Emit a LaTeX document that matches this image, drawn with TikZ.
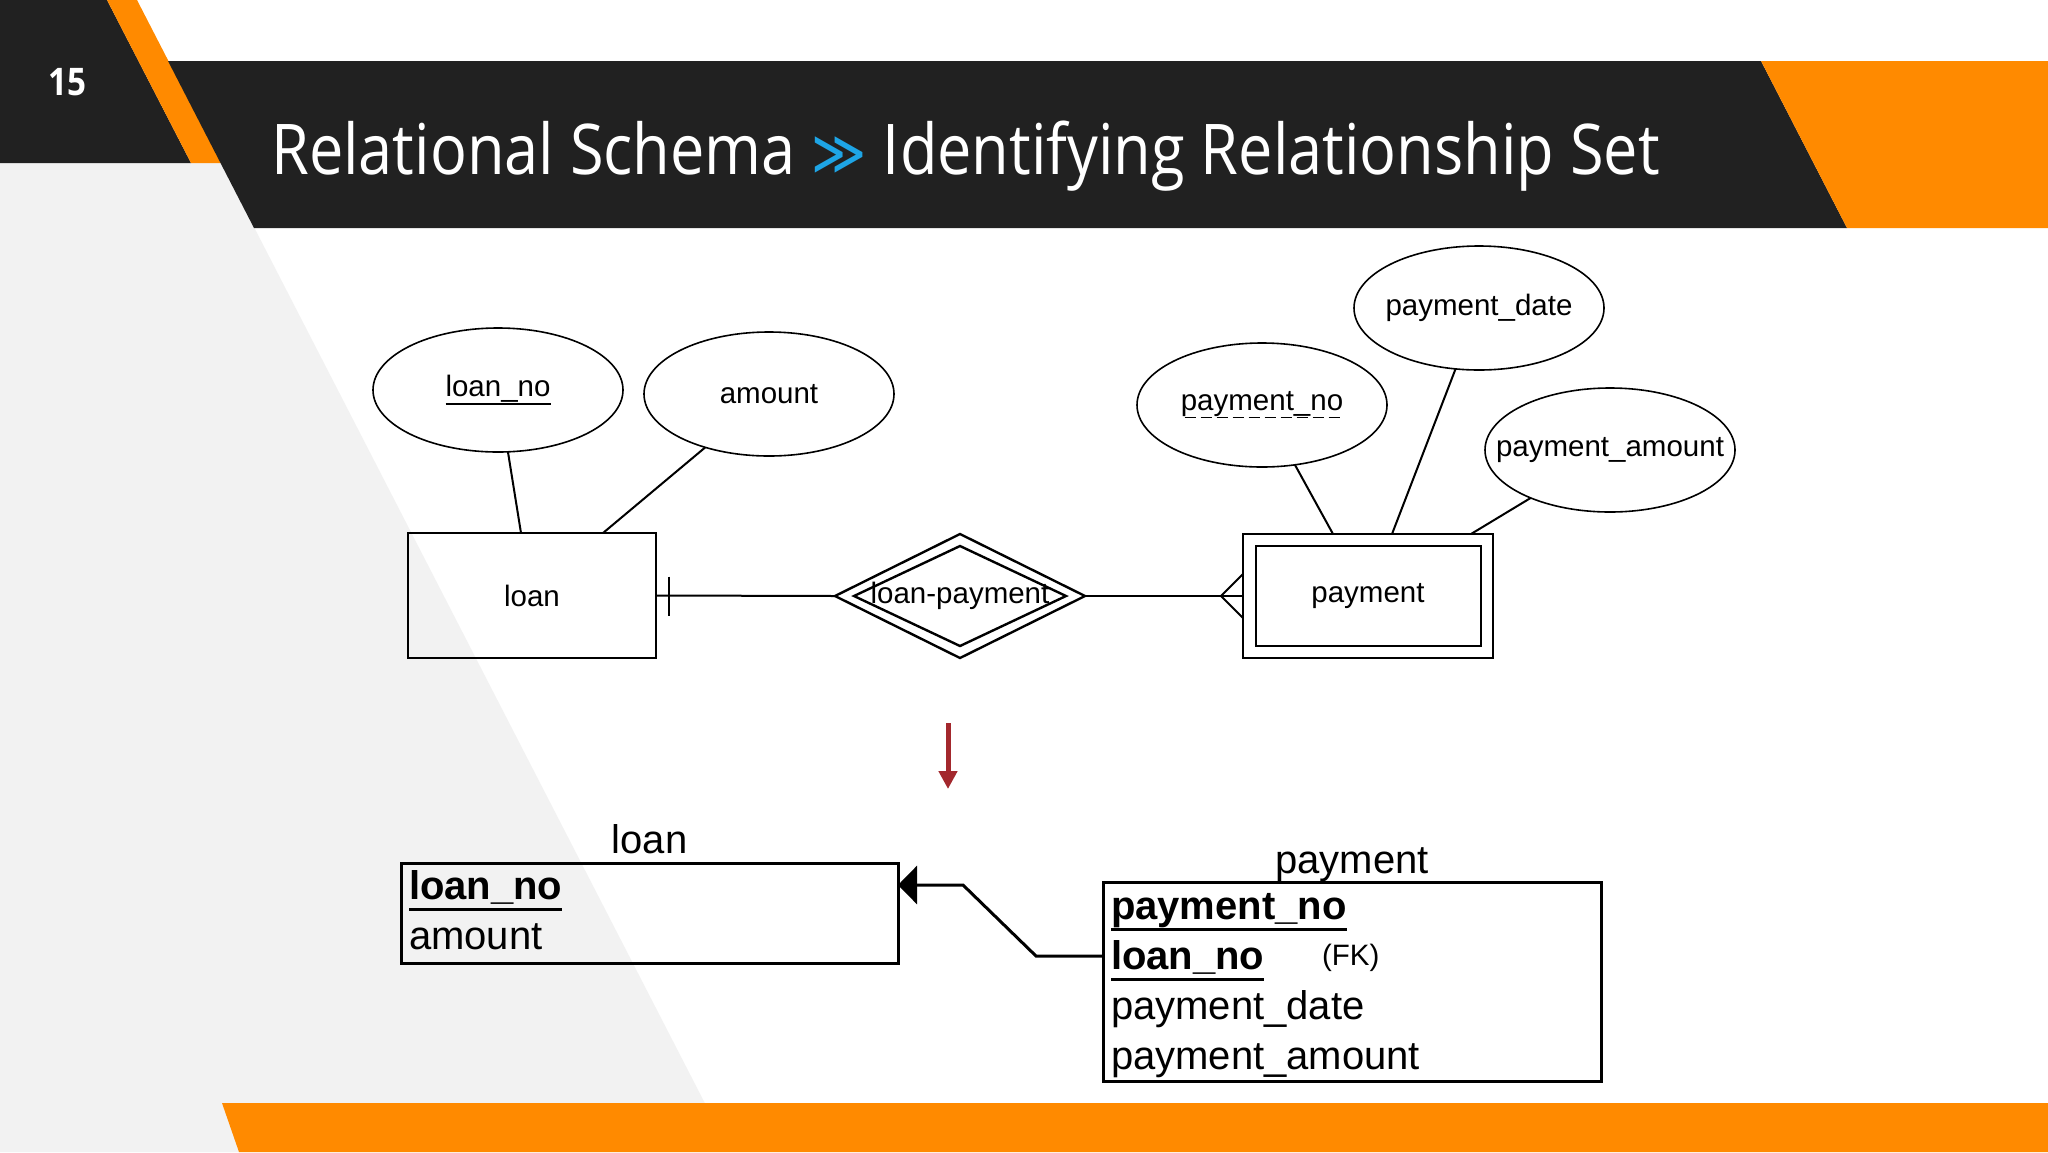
\documentclass[tikz,border=0pt]{standalone}
\usepackage{fontspec}
\setmainfont{Liberation Sans}
\newfontfamily\titlefont[FakeStretch=0.875]{Open Sans}
\newfontfamily\symfont[FakeStretch=0.85]{DejaVu Sans}
\usetikzlibrary{shapes.geometric,arrows.meta}
\definecolor{dark}{HTML}{212121}
\definecolor{orng}{HTML}{FF8A00}
\definecolor{lgray}{HTML}{F2F2F2}
\definecolor{tblue}{HTML}{1EA5E6}
\definecolor{redarrow}{HTML}{A3282D}
\newcommand\erfont{\fontsize{29.5pt}{35pt}\selectfont}
\newcommand\tabfont{\fontsize{40pt}{50pt}\selectfont}
\newsavebox\ulbox
% #1 = gap below baseline, #2 = thickness, #3 = text
\newcommand\myul[3]{\sbox\ulbox{#3}\rlap{\vrule width\wd\ulbox height -#1 depth \dimexpr#1+#2\relax}\usebox\ulbox}
\newcommand\mydul[3]{\sbox\ulbox{#3}\rlap{\hbox to \wd\ulbox{\cleaders\hbox{\kern2.5pt\vrule width 11pt height -#1 depth \dimexpr#1+#2\relax\kern2.5pt}\hfill}}\usebox\ulbox}
\newcommand\attrtxt[1]{\makebox[100pt][c]{#1}}
\tikzset{
  attr/.style={ellipse, draw, line width=1.6pt, minimum width=250pt, minimum height=124pt, inner sep=0pt, outer sep=0pt, font=\erfont},
  entity/.style={rectangle, draw, line width=2pt, minimum width=248pt, minimum height=125pt, inner sep=0pt, outer sep=0pt, font=\erfont},
  relship/.style={diamond, draw, line width=2.4pt, aspect=2, minimum width=250pt, minimum height=124pt, inner sep=0pt, outer sep=0pt, font=\erfont},
  link/.style={line width=2pt},
  tab/.style={rectangle, draw, line width=3pt, anchor=north west, align=left, inner xsep=8pt, inner ysep=0pt, outer sep=0pt, font=\tabfont},
  lbl/.style={font=\tabfont, inner sep=0pt},
  fk/.style={line width=3pt, -{Triangle[length=19pt,width=38pt]}}
}
\begin{document}
\begin{tikzpicture}[x=1pt,y=-1pt]
\useasboundingbox (0,0) rectangle (2048,1152);
% background
\fill[white] (0,0) rectangle (2048,1152);
\fill[lgray] (0,163) -- (221,163) -- (730,1152) -- (0,1152) -- cycle;
\fill[dark] (0,0) -- (107,0) -- (191,163) -- (0,163) -- cycle;
\fill[orng] (107,0) -- (137,0) -- (221,163) -- (191,163) -- cycle;
\fill[dark] (168,61) -- (1761,61) -- (1847,228) -- (254,228) -- cycle;
\fill[orng] (1761,61) -- (2048,61) -- (2048,228) -- (1847,228) -- cycle;
\fill[orng] (222,1103) -- (2048,1103) -- (2048,1152) -- (239,1152) -- cycle;
% header texts
\node[anchor=base, text=white, inner sep=0pt, font=\titlefont\bfseries\fontsize{38pt}{40pt}\selectfont] (pagenum) at (67,95) {15};
\node[anchor=base west, text=white, inner sep=0pt, font=\titlefont\fontsize{70pt}{80pt}\selectfont] (title) at (271,174)
  {Relational Schema {\symfont\fontsize{62pt}{70pt}\selectfont\color{tblue}≫} Identifying Relationship Set};
% ER diagram
\node[entity] (loan) at (532,595.5) {loan};
\node[entity, minimum width=250pt, minimum height=124pt] (payment) at (1368,596) {payment};
\draw[link] ([xshift=13pt,yshift=-12pt]payment.north west) rectangle ([xshift=-12pt,yshift=12pt]payment.south east);
\node[relship] (rel) at (960,596) {loan-payment};
\draw[link, line width=2.4pt] ([xshift=-106pt]rel.center) -- ([yshift=50pt]rel.center) -- ([xshift=106pt]rel.center) -- ([yshift=-50pt]rel.center) -- cycle;
\node[attr] (loanno) at (498,390) {\attrtxt{\myul{6pt}{1.8pt}{loan\_no}}};
\node[attr] (amount) at (769,394) {\attrtxt{amount}};
\node[attr] (payno) at (1262,405) {\attrtxt{\mydul{6pt}{1.8pt}{payment\_no}}};
\node[attr] (paydate) at (1479,308) {\attrtxt{payment\_date}};
\node[attr] (payamt) at (1610,450) {\attrtxt{payment\_amount}};
\draw[link] (loanno) -- ([xshift=113pt]loan.north west);
\draw[link] (amount) -- ([xshift=195pt]loan.north west);
\draw[link] (payno) -- ([xshift=90pt]payment.north west);
\draw[link] (paydate) -- ([xshift=149pt]payment.north west);
\draw[link] (payamt) -- ([xshift=228pt]payment.north west);
\draw[link] (loan.east) -- (rel.west);
\draw[link] ([xshift=13pt,yshift=19pt]loan.east) -- ([xshift=13pt,yshift=-20pt]loan.east);
\draw[link] (rel.east) -- (payment.west);
\draw[link] ([yshift=22pt]payment.west) -- ([xshift=-22pt]payment.west) -- ([yshift=-22pt]payment.west);
% red arrow
\coordinate (ra1) at (948,723);
\coordinate (ra2) at (948,789);
\draw[redarrow, line width=5pt, -{Triangle[length=18pt,width=18pt]}] (ra1) -- (ra2);
% relational tables
\node[tab, minimum width=497pt, minimum height=100pt, text width=481pt] (loantab) at (401,863)
  {\myul{8pt}{3pt}{\textbf{loan\_no}}\\ amount\rule[-6pt]{0pt}{6pt}};
\node[lbl, anchor=base] (loanlbl) at ([yshift=10pt]loantab.north) {loan};
\node[tab, minimum width=498pt, minimum height=199pt, text width=482pt] (paytab) at (1103,882)
  {\rule{0pt}{35pt}\myul{8pt}{3pt}{\textbf{payment\_no}}\\ \makebox[211pt][l]{\myul{8pt}{3pt}{\textbf{loan\_no}}}\raisebox{4pt}{\erfont(FK)}\\ payment\_date\\ payment\_amount};
\node[lbl, anchor=base] (paylbl) at ([yshift=9pt]paytab.north) {payment};
\draw[fk] ([yshift=-74pt]paytab.north west) -- ++(-67,0) -- ([xshift=65pt,yshift=-22pt]loantab.north east) -- ([yshift=-22pt]loantab.north east);
\end{tikzpicture}
\end{document}
